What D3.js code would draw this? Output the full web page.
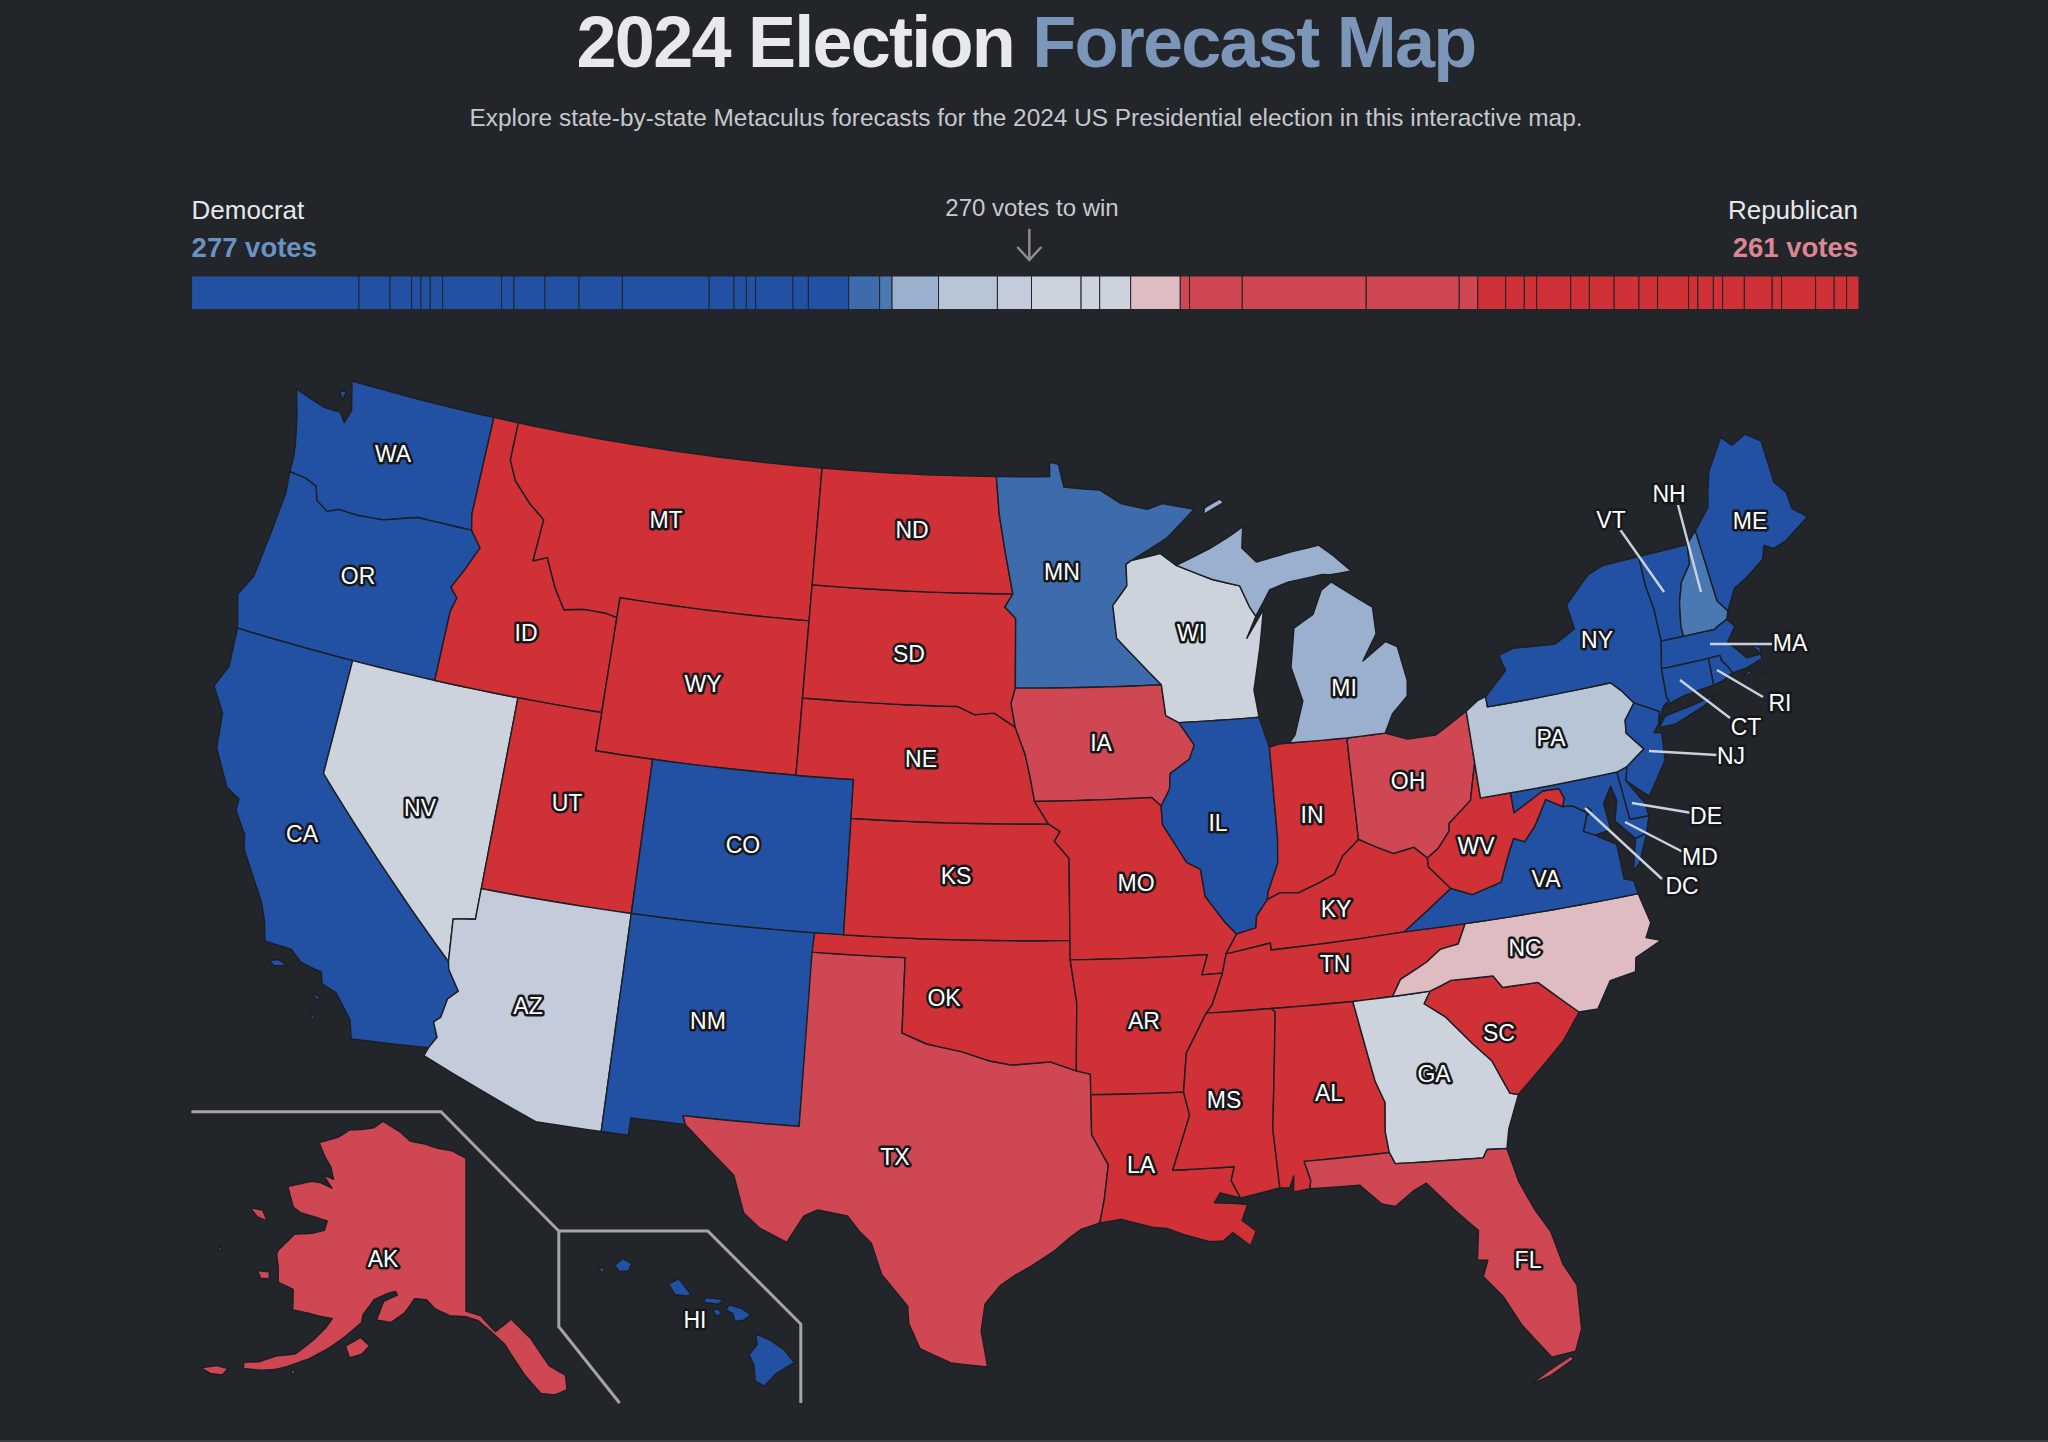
<!DOCTYPE html>
<html>
<head>
<meta charset="utf-8">
<title>2024 Election Forecast Map</title>
<script src="https://cdn.jsdelivr.net/npm/d3@7"></script>
<style>
  html, body { margin: 0; padding: 0; background: #22252a; }
  svg { display: block; font-family: "Liberation Sans", Inter, sans-serif; }
</style>
</head>
<body>
<svg id="chart" width="2048" height="1442"></svg>
<script>

// Electoral votes bar, in the order of the reference, safest Democrat first
var barStates = ["CA","MD","CT","VT","DC","RI","IL","HI","CO","MA","NJ","NY","OR","ME","DE","WA","NM","VA",
                 "MN","NH","MI","PA","AZ","GA","NV","WI","NC","AK","OH","TX","FL","IA",
                 "SC","AR","ID","TN","MS","LA","KY","UT","MO","WY","NE","ND","OK","AL","SD","IN","KS","WV","MT"];
var barVotes  = [54,10,7,3,3,4,19,4,10,11,14,28,8,4,3,12,5,13,
                 10,4,15,19,11,16,6,10,16,3,17,40,30,6,
                 9,6,4,11,6,8,8,6,10,3,5,3,7,9,3,11,6,4,4];

var ratingNames = ["safeD","likelyD","leanD","tiltD","slimD","closeD","toss","slimR","likelyR","safeR"];
var ratingFills = ["#2251a3","#3d6bab","#4a78b2","#9bb0cf","#b8c5d7","#c4ccdb","#cdd3dc","#dfbcc1","#cf4752","#cf3136"];

var safeDStates = ["CA","MD","CT","VT","DC","RI","IL","HI","CO","MA","NJ","NY","OR","ME","DE","WA","NM","VA"];
var tossStates  = ["GA","NV","WI"];
var likelyRStates = ["AK","OH","TX","FL","IA"];

var title1   = "2024 Election ";
var title2   = "Forecast Map";
var subtitle = "Explore state-by-state Metaculus forecasts for the 2024 US Presidential election in this interactive map.";

// State outlines as [lon, lat] rings, simplified by hand
var WA = [[[-124.73,48.38],[-123.5,48.13],[-122.85,48.13],[-122.6,47.9],[-122.45,48.25],[-122.75,49],[-117.03,49],[-117.04,46.42],[-116.92,46],[-118.98,46],[-119.3,45.93],[-120.2,45.72],[-121.2,45.66],[-121.9,45.68],[-122.3,45.55],[-122.78,45.75],[-122.95,46.1],[-123.4,46.22],[-124.05,46.27],[-124.07,46.65],[-124.15,47],[-124.4,47.7]],
          [[-123.1,48.65],[-122.85,48.7],[-122.9,48.45]]];
var OR = [[[-124.05,46.27],[-123.96,45.7],[-124.05,44.7],[-124.2,43.4],[-124.55,42.84],[-124.21,42],[-117.03,42],[-117.03,43.83],[-116.9,44.2],[-117.2,44.44],[-116.85,44.95],[-116.47,45.6],[-116.92,46],[-118.98,46],[-119.3,45.93],[-120.2,45.72],[-121.2,45.66],[-121.9,45.68],[-122.3,45.55],[-122.78,45.75],[-122.95,46.1],[-123.4,46.22]]];
var CA = [[[-124.21,42],[-120,42],[-120,39],[-114.63,35],[-114.57,34.8],[-114.14,34.3],[-114.43,34.05],[-114.53,33.55],[-114.72,33.4],[-114.52,33.03],[-114.72,32.72],[-117.12,32.53],[-117.28,33],[-117.9,33.6],[-118.4,33.75],[-118.5,34.03],[-119.2,34.15],[-119.6,34.42],[-120.47,34.45],[-120.65,34.95],[-120.9,35.4],[-121.9,36.6],[-122,36.95],[-122.5,37.5],[-122.5,37.8],[-123,38],[-123.7,38.9],[-123.85,39.8],[-124.4,40.4],[-124.1,41]],
          [[-120.2,34],[-119.9,34.08],[-119.6,33.98],[-120,33.9]],[[-118.6,33.45],[-118.35,33.4],[-118.45,33.3]],[[-118.58,33.05],[-118.35,32.82],[-118.45,32.8]]];
var NV = [[[-120,42],[-114.04,42],[-114.04,36.2],[-114.75,36.1],[-114.63,35],[-120,39]]];
var ID = [[[-117.03,49],[-116.05,49],[-116.05,48],[-115.7,47.5],[-115,47],[-114.35,46.65],[-114.45,45.55],[-113.95,45.7],[-113.45,44.95],[-113,44.45],[-112.3,44.55],[-111.5,44.55],[-111.05,44.48],[-111.05,42],[-117.03,42],[-117.03,43.83],[-116.9,44.2],[-117.2,44.44],[-116.85,44.95],[-116.47,45.6],[-116.92,46],[-117.04,46.42]]];
var MT = [[[-116.05,49],[-104.05,49],[-104.05,45],[-111.05,45],[-111.05,44.48],[-111.5,44.55],[-112.3,44.55],[-113,44.45],[-113.45,44.95],[-113.95,45.7],[-114.45,45.55],[-114.35,46.65],[-115,47],[-115.7,47.5],[-116.05,48]]];
var WY = [[[-111.05,45],[-104.05,45],[-104.05,41],[-111.05,41]]];
var UT = [[[-114.04,42],[-111.05,42],[-111.05,41],[-109.05,41],[-109.05,37],[-114.04,37]]];
var AZ = [[[-114.04,37],[-109.05,37],[-109.05,31.33],[-111.07,31.33],[-114.81,32.5],[-114.72,32.72],[-114.52,33.03],[-114.72,33.4],[-114.53,33.55],[-114.43,34.05],[-114.14,34.3],[-114.57,34.8],[-114.63,35],[-114.75,36.1],[-114.04,36.2]]];
var CO = [[[-109.05,41],[-102.05,41],[-102.05,37],[-109.05,37]]];
var NM = [[[-109.05,37],[-103,37],[-103.04,32],[-106.62,32],[-106.53,31.78],[-108.21,31.78],[-108.21,31.33],[-109.05,31.33]]];
var TX = [[[-103.04,36.5],[-100,36.5],[-100,34.56],[-99.2,34.3],[-98.1,34.13],[-97.2,33.9],[-96.5,33.8],[-95.3,33.88],[-94.48,33.64],[-94.04,33.55],[-94.04,33.02],[-94.04,31.99],[-93.55,31.2],[-93.7,30.3],[-93.85,29.7],[-94.4,29.55],[-94.8,29.3],[-95.2,29],[-95.9,28.6],[-96.4,28.35],[-96.8,28.1],[-97.25,27.6],[-97.35,26.9],[-97.2,26.2],[-97.15,25.96],[-98.2,26.05],[-99.1,26.4],[-99.45,27.05],[-99.5,27.5],[-100.3,28.3],[-100.65,29.1],[-101,29.37],[-101.4,29.77],[-102.3,29.88],[-102.7,29.7],[-103.15,28.98],[-104,29.3],[-104.5,29.65],[-104.9,30.6],[-106,31.4],[-106.53,31.78],[-106.62,32],[-103.04,32]]];
var OK = [[[-103,37],[-94.62,37],[-94.62,36.5],[-94.43,35.4],[-94.48,33.64],[-95.3,33.88],[-96.5,33.8],[-97.2,33.9],[-98.1,34.13],[-99.2,34.3],[-100,34.56],[-100,36.5],[-103.04,36.5]]];
var KS = [[[-102.05,40],[-95.3,40],[-94.9,39.8],[-95.1,39.55],[-94.61,39.11],[-94.62,37],[-102.05,37]]];
var NE = [[[-104.05,43],[-98.5,43],[-97.9,42.8],[-97.2,42.85],[-96.45,42.49],[-96.1,41.8],[-95.92,41.2],[-95.77,40.58],[-95.3,40],[-102.05,40],[-102.05,41],[-104.05,41]]];
var SD = [[[-104.05,45.94],[-96.56,45.94],[-96.85,45.6],[-96.45,45.3],[-96.45,43.5],[-96.6,43.1],[-96.45,42.49],[-97.2,42.85],[-97.9,42.8],[-98.5,43],[-104.05,43]]];
var ND = [[[-104.05,49],[-97.23,49],[-97.1,48],[-96.85,47],[-96.56,45.94],[-104.05,45.94]]];
var MN = [[[-97.23,49],[-95.15,49],[-95.15,49.38],[-94.8,49.32],[-94.6,48.72],[-93.2,48.62],[-92.4,48.25],[-91.4,48.07],[-90.8,48.2],[-89.6,48],[-90.7,47.3],[-92.1,46.75],[-92.3,46.66],[-92.3,46.1],[-92.85,45.6],[-92.75,44.75],[-91.2,43.5],[-96.45,43.5],[-96.45,45.3],[-96.85,45.6],[-96.56,45.94],[-96.85,47],[-97.1,48]]];
var IA = [[[-96.45,43.5],[-91.2,43.5],[-91.1,42.7],[-90.65,42.5],[-90.15,41.9],[-90.35,41.55],[-91.05,41.2],[-91.1,40.8],[-91.42,40.38],[-91.73,40.61],[-95.77,40.58],[-95.92,41.2],[-96.1,41.8],[-96.45,42.49],[-96.6,43.1]]];
var MO = [[[-91.42,40.38],[-91.73,40.61],[-95.77,40.58],[-95.3,40],[-94.9,39.8],[-95.1,39.55],[-94.61,39.11],[-94.62,37],[-94.62,36.5],[-90.15,36.5],[-90.37,35.99],[-89.7,36],[-89.53,36.5],[-89.15,36.98],[-89.5,37.3],[-90.1,38],[-90.2,38.7],[-90.65,38.9],[-91.4,39.9]]];
var WI = [[[-92.1,46.75],[-91,46.9],[-90.42,46.57],[-89.1,46.14],[-88.1,45.92],[-87.8,45.35],[-87.6,45.1],[-88,44.55],[-87.3,45.25],[-87.55,44.3],[-87.9,43.2],[-87.8,42.49],[-90.65,42.5],[-91.1,42.7],[-91.2,43.5],[-92.75,44.75],[-92.85,45.6],[-92.3,46.1],[-92.3,46.66]]];
var IL = [[[-90.65,42.5],[-87.8,42.49],[-87.53,41.7],[-87.53,39.35],[-87.6,38.7],[-88,38],[-88.05,37.8],[-88.45,37.4],[-88.5,37.1],[-89.15,36.98],[-89.5,37.3],[-90.1,38],[-90.2,38.7],[-90.65,38.9],[-91.4,39.9],[-91.42,40.38],[-91.1,40.8],[-91.05,41.2],[-90.35,41.55],[-90.15,41.9]]];
var IN = [[[-87.53,41.7],[-87.2,41.76],[-86.82,41.76],[-84.8,41.73],[-84.81,39.1],[-85.4,38.73],[-85.75,38.28],[-86.3,38.1],[-87,37.9],[-87.6,37.95],[-88.05,37.8],[-88,38],[-87.6,38.7],[-87.53,39.35]]];
var OH = [[[-84.8,41.73],[-83.45,41.73],[-82.7,41.5],[-81.7,41.5],[-80.52,41.98],[-80.52,40.64],[-80.65,40.3],[-80.87,39.7],[-81.7,39.2],[-81.75,39],[-82.2,38.6],[-82.6,38.4],[-83,38.72],[-83.7,38.63],[-84.25,38.85],[-84.81,39.1]]];
var KY = [[[-84.81,39.1],[-84.25,38.85],[-83.7,38.63],[-83,38.72],[-82.6,38.4],[-82.6,38.17],[-81.97,37.54],[-83.68,36.6],[-88.07,36.5],[-88.07,36.68],[-89.42,36.5],[-89.53,36.5],[-89.15,36.98],[-88.5,37.1],[-88.45,37.4],[-88.05,37.8],[-87.6,37.95],[-87,37.9],[-86.3,38.1],[-85.75,38.28],[-85.4,38.73]]];
var TN = [[[-89.53,36.5],[-89.42,36.5],[-88.07,36.68],[-88.07,36.5],[-83.68,36.6],[-81.68,36.59],[-82,36.1],[-82.6,36.03],[-83.1,35.75],[-84,35.4],[-84.32,34.99],[-85.6,34.98],[-88.2,35],[-90.3,35],[-90.1,35.2],[-89.7,36]]];
var AR = [[[-94.62,36.5],[-90.15,36.5],[-90.37,35.99],[-89.7,36],[-90.1,35.2],[-90.3,35],[-91,34],[-91.15,33],[-94.04,33.02],[-94.04,33.55],[-94.48,33.64],[-94.43,35.4]]];
var LA = [[[-94.04,33.02],[-91.15,33],[-91,32.4],[-91.6,31],[-89.73,31],[-89.85,30.65],[-89.6,30.18],[-90.2,30.35],[-90.4,30.1],[-89.75,30.05],[-89.4,30],[-89.6,29.6],[-89.2,29.3],[-89.4,28.93],[-89.9,29.3],[-90.2,29.1],[-90.6,29.1],[-91.3,29.3],[-91.85,29.5],[-92.3,29.55],[-93.2,29.78],[-93.85,29.7],[-93.7,30.3],[-93.55,31.2],[-94.04,31.99]]];
var MS = [[[-90.3,35],[-88.2,35],[-88.1,34.9],[-88.47,31.9],[-88.4,30.37],[-89.6,30.18],[-89.85,30.65],[-89.73,31],[-91.6,31],[-91,32.4],[-91.15,33],[-91,34]]];
var AL = [[[-88.2,35],[-85.6,34.98],[-85.18,32.87],[-84.95,32.3],[-85.05,31.55],[-85,31],[-87.6,31],[-87.45,30.5],[-87.5,30.28],[-88,30.23],[-87.95,30.65],[-88.1,30.35],[-88.4,30.37],[-88.47,31.9],[-88.1,34.9]]];
var GA = [[[-85.6,34.98],[-84.32,34.99],[-83.11,35],[-83.35,34.7],[-82.75,34.3],[-82,33.5],[-81.5,33],[-81.1,32.1],[-80.85,32.03],[-81.3,31.2],[-81.45,30.7],[-82.05,30.75],[-82.2,30.55],[-84.86,30.7],[-85,31],[-85.05,31.55],[-84.95,32.3],[-85.18,32.87]]];
var FL = [[[-87.6,31],[-85,31],[-84.86,30.7],[-82.2,30.55],[-82.05,30.75],[-81.45,30.7],[-81.25,29.8],[-80.9,29],[-80.55,28.4],[-80.35,27.5],[-80.05,26.9],[-80.13,25.75],[-80.4,25.2],[-81.1,25.15],[-81.8,26.1],[-82.2,26.9],[-82.7,27.5],[-82.5,27.9],[-82.8,27.95],[-82.65,28.7],[-83.3,29.35],[-84,30.1],[-84.4,29.95],[-85,29.6],[-85.4,29.7],[-86,30.25],[-87.5,30.28],[-87.45,30.5]],
          [[-81.8,24.52],[-81.2,24.68],[-80.5,25],[-80.55,25.1],[-81.3,24.78]]];
var SC = [[[-83.35,34.7],[-83.11,35],[-82.4,35.2],[-81.05,35.15],[-80.8,34.82],[-79.67,34.8],[-78.55,33.86],[-79.2,33.2],[-79.9,32.7],[-80.85,32.03],[-81.1,32.1],[-81.5,33],[-82,33.5],[-82.75,34.3]]];
var NC = [[[-84.32,34.99],[-83.11,35],[-82.4,35.2],[-81.05,35.15],[-80.8,34.82],[-79.67,34.8],[-78.55,33.86],[-77.95,33.85],[-77.4,34.5],[-76.55,34.6],[-76.45,34.95],[-75.55,35.25],[-76,35.4],[-75.75,35.75],[-75.95,36.55],[-81.68,36.59],[-82,36.1],[-82.6,36.03],[-83.1,35.75],[-84,35.4]]];
var VA = [[[-75.95,36.55],[-81.68,36.59],[-83.68,36.6],[-81.97,37.54],[-81.3,37.3],[-80.3,37.5],[-79.95,38.1],[-79.65,38.55],[-79.3,38.42],[-78.87,38.77],[-78.35,39.39],[-77.83,39.13],[-77.5,39.1],[-77.05,38.85],[-77.3,38.4],[-76.95,38.25],[-76.3,37.9],[-76.3,37],[-76,36.9]],
          [[-75.95,37.15],[-75.65,37.95],[-75.25,38.03],[-75.7,37.3]]];
var WV = [[[-80.52,40.64],[-80.52,39.72],[-79.48,39.72],[-79.48,39.2],[-78.4,39.62],[-77.83,39.6],[-77.72,39.32],[-77.83,39.13],[-78.35,39.39],[-78.87,38.77],[-79.3,38.42],[-79.65,38.55],[-79.95,38.1],[-80.3,37.5],[-81.3,37.3],[-81.97,37.54],[-82.6,38.17],[-82.6,38.4],[-82.2,38.6],[-81.75,39],[-81.7,39.2],[-80.87,39.7],[-80.65,40.3]]];
var MD = [[[-79.48,39.72],[-75.79,39.72],[-75.7,38.46],[-75.05,38.45],[-75.25,38.03],[-75.65,37.95],[-75.9,38.2],[-76.2,38.5],[-76,39],[-76.1,39.4],[-76.45,39],[-76.4,38.3],[-76.95,38.25],[-77.3,38.4],[-77.05,38.85],[-77.5,39.1],[-77.83,39.13],[-77.72,39.32],[-77.83,39.6],[-78.4,39.62],[-79.48,39.2]]];
var DE = [[[-75.79,39.72],[-75.42,39.8],[-75.55,39.45],[-75.1,38.8],[-75.05,38.45],[-75.7,38.46]]];
var DC = [[[-77.12,38.93],[-77.04,39],[-76.91,38.89],[-77.04,38.79]]];
var PA = [[[-80.52,41.98],[-80.07,42.2],[-79.76,42.27],[-79.76,42],[-75.35,42],[-75.05,41.75],[-74.7,41.36],[-75.13,40.98],[-75.2,40.65],[-74.72,40.15],[-75.42,39.8],[-75.79,39.72],[-80.52,39.72],[-80.52,40.64]]];
var NJ = [[[-74.7,41.36],[-73.9,41],[-74.02,40.7],[-74.26,40.5],[-74,40.45],[-74.1,39.75],[-74.9,38.93],[-75.55,39.45],[-75.42,39.8],[-74.72,40.15],[-75.2,40.65],[-75.13,40.98]]];
var NY = [[[-79.76,42.27],[-79.76,42],[-75.35,42],[-75.05,41.75],[-74.7,41.36],[-73.9,41],[-74.02,40.7],[-73.73,41.1],[-73.49,41.21],[-73.55,41.3],[-73.49,42.05],[-73.27,42.75],[-73.25,43.6],[-73.35,44.25],[-73.34,45.01],[-74.7,45],[-75.3,44.85],[-76.3,44.2],[-76.2,43.55],[-77,43.27],[-78.5,43.37],[-79.05,43.26],[-78.9,42.85]],
          [[-74.03,40.6],[-73.75,40.85],[-72.6,40.97],[-71.87,41.07],[-72.4,40.85],[-73.5,40.58]]];
var VT = [[[-73.34,45.01],[-71.5,45.01],[-71.6,44.5],[-72.05,44.1],[-72.3,43.6],[-72.46,43],[-72.46,42.73],[-73.27,42.75],[-73.25,43.6],[-73.35,44.25]]];
var NH = [[[-71.5,45.01],[-71.08,45.3],[-70.98,43.4],[-70.7,43.07],[-70.82,42.87],[-71.25,42.74],[-71.3,42.7],[-72.46,42.73],[-72.46,43],[-72.3,43.6],[-72.05,44.1],[-71.6,44.5]]];
var ME = [[[-71.08,45.3],[-70.4,45.8],[-70.25,46.2],[-70,46.7],[-69.23,47.46],[-68.9,47.18],[-68.3,47.36],[-67.79,47.07],[-67.78,45.94],[-67.45,45.6],[-67.43,45.15],[-66.97,44.83],[-68,44.4],[-68.5,44.3],[-68.8,44.45],[-69,44.1],[-69.8,43.75],[-70.25,43.6],[-70.7,43.07],[-70.98,43.4]]];
var MA = [[[-73.49,42.05],[-73.27,42.75],[-72.46,42.73],[-71.3,42.7],[-71.25,42.74],[-70.82,42.87],[-70.6,42.65],[-71,42.3],[-70.65,41.95],[-70.5,41.78],[-70,41.78],[-70.2,42.07],[-69.95,41.95],[-70,41.65],[-70.65,41.52],[-71.12,41.5],[-71.2,41.67],[-71.38,41.89],[-71.38,42.02],[-71.8,42.02]],
          [[-70.83,41.35],[-70.5,41.45],[-70.5,41.35]],[[-70.25,41.3],[-69.97,41.3],[-70,41.24]]];
var RI = [[[-71.8,42.02],[-71.38,42.02],[-71.38,41.89],[-71.2,41.67],[-71.12,41.5],[-71.5,41.37],[-71.86,41.32]]];
var CT = [[[-73.49,42.05],[-71.8,42.02],[-71.86,41.32],[-72.9,41.25],[-73.73,41.1],[-73.49,41.21],[-73.55,41.3]]];
var MI = [[[-86.82,41.76],[-84.8,41.73],[-83.45,41.73],[-83.1,42.2],[-82.5,42.6],[-82.42,43],[-82.6,43.9],[-83,44.07],[-83.9,43.65],[-83.3,44.3],[-83.3,45],[-84.7,45.78],[-85.1,45.6],[-85.5,45],[-86.25,44.7],[-86.5,43.7],[-86.2,42.8],[-86.6,41.95]],
          [[-90.42,46.57],[-89.1,46.14],[-88.1,45.92],[-87.8,45.35],[-87.6,45.1],[-87,45.75],[-86.3,45.9],[-85,46],[-84.7,45.97],[-83.9,46],[-84.5,46.45],[-85,46.77],[-86.1,46.67],[-87.4,46.5],[-87.9,46.9],[-87.8,47.45],[-88.4,47.2],[-89.1,46.95]],
          [[-89.25,47.85],[-88.45,48.12],[-88.6,48.22],[-89.2,48.02]]];
var HI = [[[-155.88,20.27],[-155.5,20.12],[-155.08,19.85],[-155,19.73],[-154.81,19.52],[-155.3,19.25],[-155.65,18.91],[-155.9,19.05],[-155.92,19.45],[-156.06,19.73],[-155.83,20]],
          [[-156.7,20.9],[-156.6,21.03],[-156.25,20.93],[-156,20.77],[-156.2,20.63],[-156.45,20.6],[-156.5,20.8]],
          [[-157.31,21.1],[-157.25,21.22],[-156.75,21.17],[-156.9,21.05]],[[-157.06,20.9],[-156.9,20.93],[-156.82,20.8],[-156.95,20.73]],
          [[-158.28,21.57],[-158,21.71],[-157.65,21.3],[-157.8,21.26],[-158.1,21.3]],
          [[-159.78,22.05],[-159.55,22.23],[-159.3,22.1],[-159.4,21.9],[-159.65,21.9]],
          [[-160.25,21.95],[-160.05,22],[-160.1,21.85]]];
var AK = [[[-141,69.65],[-143.5,70.1],[-146,70.2],[-148.5,70.4],[-151,70.45],[-153,70.9],[-156.6,71.35],[-158,70.8],[-160,70.5],[-162,70.25],[-163.5,69.6],[-166.2,68.88],[-164.5,68.2],[-163,67.7],[-162,67.05],[-163.7,67.1],[-161.8,66.5],[-163.7,66.6],[-165,66.5],[-166.5,66.1],[-168.1,65.65],[-166.2,64.6],[-165,64.45],[-162.5,64.5],[-161,64.5],[-161,63.9],[-162.5,63.5],[-164.7,63.1],[-165.9,61.9],[-166,61.6],[-165.2,60.9],[-164.5,60],[-162.5,59.9],[-162,59.1],[-161.8,58.7],[-159.9,58.8],[-158.6,58.8],[-157,58.85],[-157.5,58.2],[-158.5,57.3],[-160,56.2],[-162,55.7],[-163.5,55.05],[-165,54.7],[-164.8,54.35],[-163,54.6],[-161.5,54.95],[-160.5,55.3],[-158.5,56.1],[-156.5,57.1],[-155,58],[-153.5,59],[-153.5,59.5],[-152.5,60.5],[-151,61],[-150,61.2],[-149.7,61],[-151.3,60.5],[-151.8,59.3],[-150,59.3],[-148.5,60],[-147.5,60.9],[-146,60.9],[-144.9,60.4],[-143,60],[-141,59.95],[-139.5,59.7],[-138,59],[-136.5,58.2],[-135.5,57.2],[-134.5,56.2],[-133,55],[-131.6,54.8],[-130.2,55],[-130.1,55.9],[-131.7,56.6],[-133.4,58.4],[-135.5,59.7],[-137.5,59],[-139.2,60],[-141,60.3]],
          [[-154.8,57.4],[-153.3,58.1],[-152.1,57.7],[-152.8,57.1],[-154.1,56.75]],
          [[-167.4,60.2],[-166,60.4],[-165.7,60],[-166.7,59.85]],
          [[-171.7,63.5],[-170,63.7],[-168.8,63.2],[-170.3,63.2]],
          [[-173,60.6],[-172.5,60.4],[-172.9,60.3]],
          [[-168.9,53.4],[-167.5,53.9],[-166.3,54],[-166.6,53.5],[-167.8,53.3]],
          [[-160,55.2],[-159.5,55.2],[-159.7,54.9]]];

var stateRings = {WA:WA,OR:OR,CA:CA,NV:NV,ID:ID,MT:MT,WY:WY,UT:UT,AZ:AZ,CO:CO,NM:NM,TX:TX,OK:OK,KS:KS,NE:NE,SD:SD,ND:ND,
                  MN:MN,IA:IA,MO:MO,WI:WI,IL:IL,IN:IN,OH:OH,KY:KY,TN:TN,AR:AR,LA:LA,MS:MS,AL:AL,GA:GA,FL:FL,SC:SC,NC:NC,
                  VA:VA,WV:WV,MD:MD,DE:DE,DC:DC,PA:PA,NJ:NJ,NY:NY,VT:VT,NH:NH,ME:ME,MA:MA,RI:RI,CT:CT,MI:MI,HI:HI,AK:AK};

function ratingOf(st) {
  if (safeDStates.indexOf(st) >= 0) return "safeD";
  if (tossStates.indexOf(st) >= 0) return "toss";
  if (likelyRStates.indexOf(st) >= 0) return "likelyR";
  if (st == "MN") return "likelyD";
  if (st == "NH") return "leanD";
  if (st == "MI") return "tiltD";
  if (st == "PA") return "slimD";
  if (st == "AZ") return "closeD";
  if (st == "NC") return "slimR";
  return "safeR";
}

var bg = "#22252a";
var svg = d3.select("#chart");
var fillScale = d3.scaleOrdinal().domain(ratingNames).range(ratingFills);

svg.append("rect").attr("width", 2048).attr("height", 1442).attr("fill", bg);
svg.append("rect").attr("y", 1440).attr("width", 2048).attr("height", 2).attr("fill", "#3b3e43");

// Header text
var titleText = svg.append("text")
  .attr("x", 1026).attr("y", 67)
  .attr("text-anchor", "middle")
  .attr("font-size", 72).attr("font-weight", 700)
  .attr("letter-spacing", -1.75);
titleText.append("tspan").attr("fill", "#e7e9ec").text(title1);
titleText.append("tspan").attr("fill", "#7b96b8").text(title2);

svg.append("text")
  .attr("x", 1026).attr("y", 126)
  .attr("text-anchor", "middle")
  .attr("font-size", 24.4).attr("fill", "#c5c8cc")
  .text(subtitle);

function label(x, y, text, anchor, size, weight, fill) {
  svg.append("text")
    .attr("x", x).attr("y", y)
    .attr("text-anchor", anchor)
    .attr("font-size", size).attr("font-weight", weight)
    .attr("fill", fill)
    .text(text);
}

label(191.6, 219, "Democrat",  "start", 26, 400, "#e7e8ea");
label(191.6, 257, "277 votes", "start", 27.5, 700, "#6a92c3");
label(1858,  219, "Republican", "end",  26, 400, "#e7e8ea");
label(1858,  257, "261 votes",  "end",  27.5, 700, "#dd8593");
label(1032,  216, "270 votes to win", "middle", 24, 400, "#c8cacc");

// arrow pointing at the 270 mark
var barX = d3.scaleLinear().domain([0, 538]).range([191.6, 1859]);
var arrowX = barX(270.3);
svg.append("path")
  .attr("d", d3.line()([[arrowX, 229], [arrowX, 260]]) + d3.line()([[arrowX - 12, 247], [arrowX, 260], [arrowX + 12, 247]]))
  .attr("fill", "none").attr("stroke", "#8e9093").attr("stroke-width", 2.4);

// Votes bar
var cumVotes = d3.cumsum(barVotes);
svg.append("g").selectAll("rect")
  .data(barStates)
  .enter()
  .append("rect")
  .attr("x", function(st, i) { return barX(i ? cumVotes[i - 1] : 0); })
  .attr("y", 276)
  .attr("width", function(st, i) { return barX(barVotes[i]) - barX(0); })
  .attr("height", 33.5)
  .attr("fill", function(st) { return fillScale(ratingOf(st)); })
  .attr("stroke", bg).attr("stroke-width", 1);

// Map: lower 48 in Albers, Alaska and Hawaii with their own conics
var mapScale = 2208, mapX = 1010, mapY = 874.5;
var lower48 = d3.geoAlbers().scale(mapScale).translate([mapX, mapY]);
var alaska = d3.geoConicEqualArea()
  .rotate([141, 0]).center([0, 60.3]).parallels([55, 65])
  .scale(938).translate([466, 1311]);
var hawaii = d3.geoConicEqualArea()
  .rotate([157, 0]).center([-3, 19.9]).parallels([8, 18])
  .scale(mapScale).translate([605.7, 1347.6]);

var pathLower48 = d3.geoPath(lower48);
var pathAlaska  = d3.geoPath(alaska);
var pathHawaii  = d3.geoPath(hawaii);

// Long borders follow parallels, so add points along them before projecting
function densify(ring) {
  var out = [];
  ring.forEach(function(p, i) {
    var q = ring[(i + 1) % ring.length];
    var n = Math.ceil(Math.max(Math.abs(q[0] - p[0]), Math.abs(q[1] - p[1])) / 0.5);
    for (var k = 0; k < n; k++) {
      out.push([p[0] + (q[0] - p[0]) * k / n, p[1] + (q[1] - p[1]) * k / n]);
    }
  });
  out.push(out[0]);
  // d3 wants the small side of the ring
  if (d3.geoArea({type: "Polygon", coordinates: [out]}) > 2 * Math.PI) out.reverse();
  return out;
}

var features = Object.keys(stateRings).map(function(st) {
  return {
    type: "Feature",
    id: st,
    geometry: {type: "MultiPolygon", coordinates: stateRings[st].map(function(r) { return [densify(r)]; })}
  };
});

svg.append("g").selectAll("path")
  .data(features)
  .enter()
  .append("path")
  .attr("d", function(f) {
    if (f.id == "AK") return pathAlaska(f);
    if (f.id == "HI") return pathHawaii(f);
    return pathLower48(f);
  })
  .attr("fill", function(f) { return fillScale(ratingOf(f.id)); })
  .attr("stroke", "#1b1e23").attr("stroke-width", 1.4).attr("stroke-linejoin", "round");

// Inset borders for Alaska and Hawaii
var insetLine = d3.line();
[[[191.4, 1111.7], [441, 1111.7], [558.8, 1231], [558.8, 1326.7], [619.6, 1403]],
 [[558.8, 1231], [707.8, 1231], [800.8, 1324], [800.8, 1403]]].forEach(function(pts) {
  svg.append("path").attr("d", insetLine(pts))
    .attr("fill", "none").attr("stroke", "#a3a5a8").attr("stroke-width", 3);
});

// Leader lines for the small states, [from, to]
var leaders = [
  [[1678, 505], [1701, 592]], [[1619, 528], [1664, 592]], [[1772, 644], [1710, 644]],
  [[1763, 697], [1717, 670]], [[1730, 718], [1680, 680]], [[1717, 755], [1649, 751]],
  [[1692, 813], [1632, 803]], [[1685, 853], [1625, 822]], [[1662, 879], [1585, 808]]
];
leaders.forEach(function(pts) {
  svg.append("path").attr("d", insetLine(pts))
    .attr("fill", "none").attr("stroke", "#c9d3e0").attr("stroke-width", 2.4);
});

// State labels placed as in the reference
var labelSpots = {
  WA:[393,454],OR:[358,576],CA:[302,834],NV:[420,808],ID:[526,633],MT:[666,520],WY:[703,684],UT:[567,803],AZ:[528,1006],
  CO:[743,845],NM:[708,1021],ND:[912,530],SD:[909,654],NE:[921,759],KS:[956,876],OK:[944,998],TX:[895,1157],MN:[1062,572],
  IA:[1101,743],MO:[1136,883],AR:[1144,1021],LA:[1141,1165],WI:[1191,633],IL:[1218,823],MI:[1344,688],IN:[1312,815],
  OH:[1408,781],KY:[1336,909],TN:[1335,964],MS:[1224,1100],AL:[1329,1093],GA:[1434,1074],FL:[1528,1260],SC:[1499,1033],
  NC:[1525,948],VA:[1546,879],WV:[1476,846],PA:[1551,738],NY:[1597,640],ME:[1750,521],AK:[383,1259],HI:[695,1320],
  NH:[1669,494],VT:[1611,520],MA:[1790,643],RI:[1780,703],CT:[1746,727],NJ:[1731,756],DE:[1706,816],MD:[1700,857],DC:[1682,886]
};

svg.append("g").selectAll("text")
  .data(Object.keys(labelSpots))
  .enter()
  .append("text")
  .attr("x", function(st) { return labelSpots[st][0]; })
  .attr("y", function(st) { return labelSpots[st][1]; })
  .attr("dy", "0.36em")
  .attr("text-anchor", "middle")
  .attr("font-size", 23).attr("font-weight", 400)
  .attr("fill", "#ffffff")
  .attr("stroke", "#15171a").attr("stroke-width", 5).attr("stroke-linejoin", "round")
  .attr("paint-order", "stroke")
  .text(function(st) { return st; });

</script>
</body>
</html>
